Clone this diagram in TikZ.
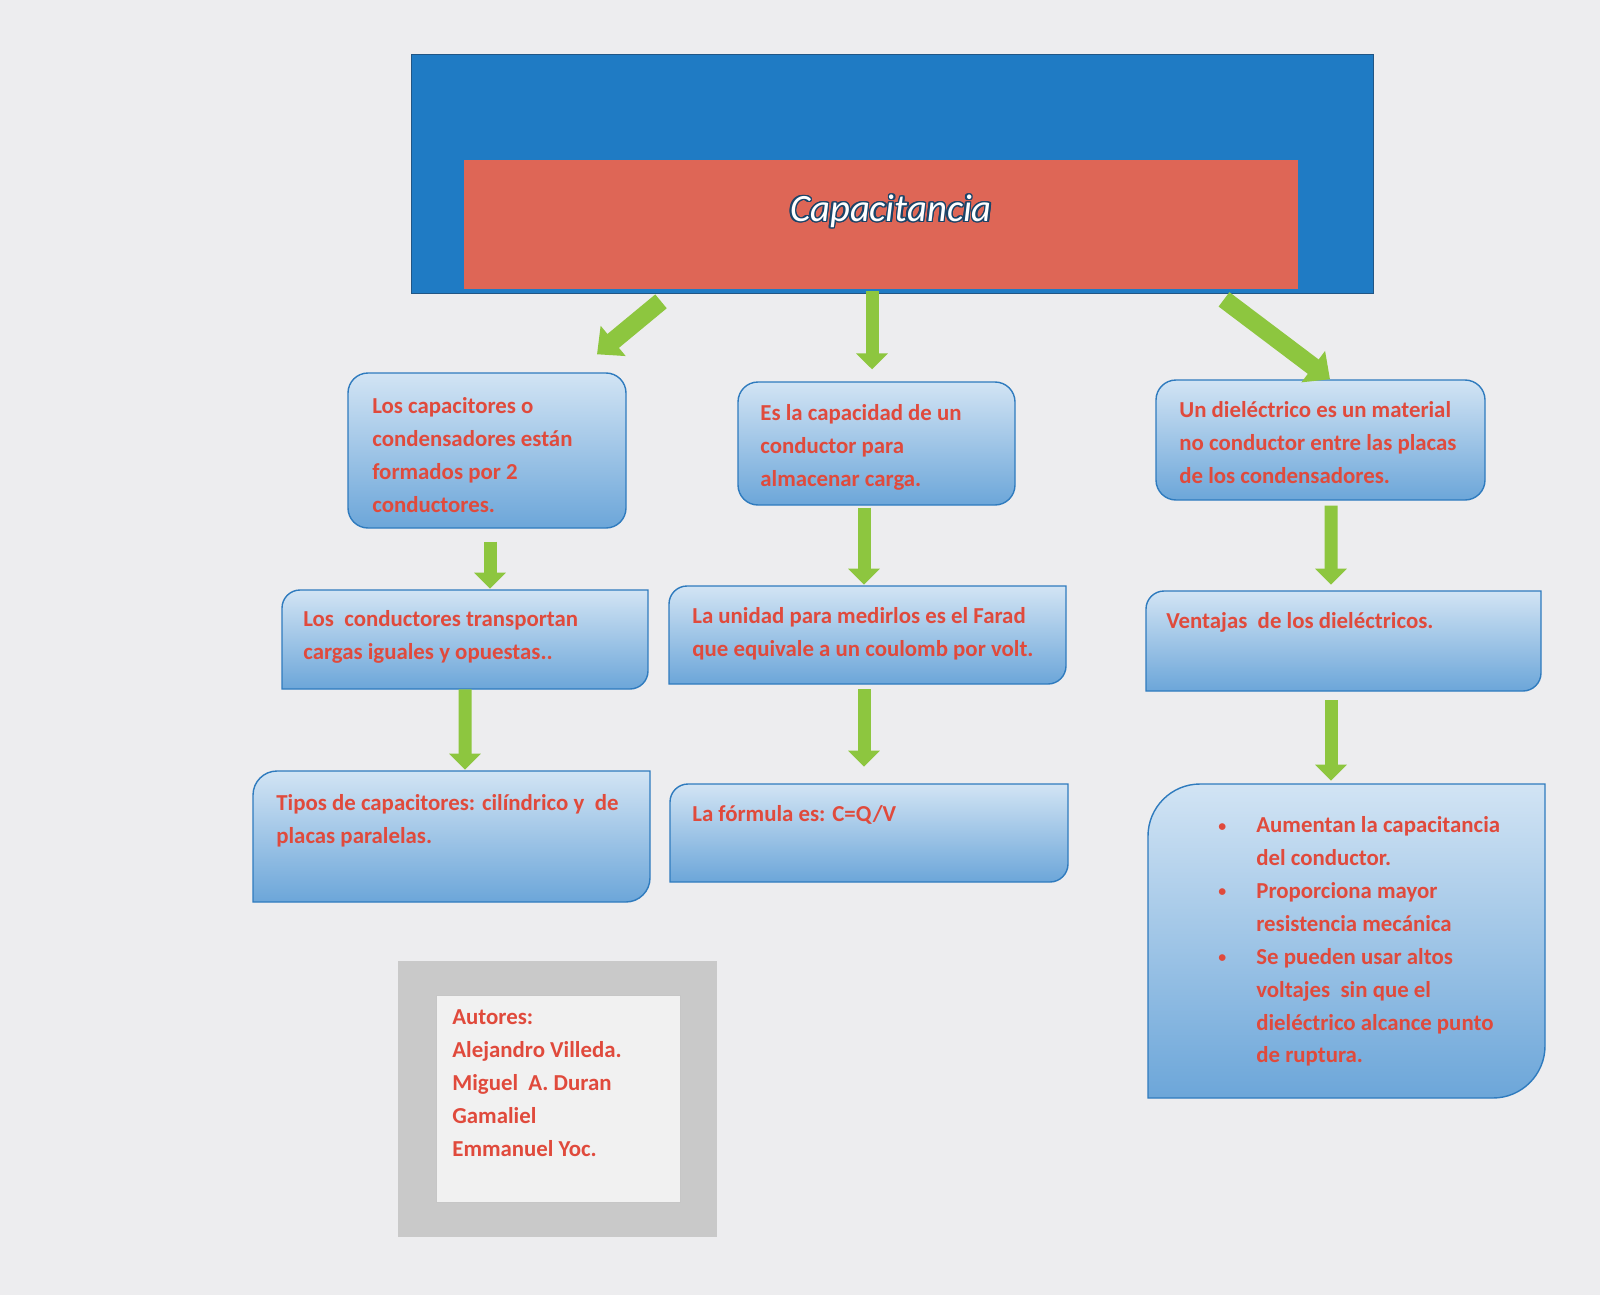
\documentclass[tikz,border=0pt]{standalone}
\usepackage{fontspec}
\setmainfont{Carlito}
\usepackage{contour}
\usetikzlibrary{arrows.meta,calc,fit}
\definecolor{CapPaper}{HTML}{EDEDEF}
\definecolor{CapBlue}{HTML}{1F7BC4}
\definecolor{CapSalmon}{HTML}{DE6656}
\definecolor{CapTop}{HTML}{D2E4F4}
\definecolor{CapBottom}{HTML}{6CA6D9}
\definecolor{CapLine}{HTML}{2F7BBE}
\definecolor{CapRed}{HTML}{E04A3C}
\definecolor{CapGreen}{HTML}{8DC63F}
\definecolor{CapFrame}{HTML}{C9C9C9}
\definecolor{CapInner}{HTML}{F1F1F1}
\contourlength{0.8pt}
\newdimen\capx \capx=0.02cm
\newcommand{\capbul}{\makebox[38\capx][l]{\raisebox{1pt}{\fontsize{9}{9}\selectfont\textbullet}}}
\newcommand{\capind}{\hspace*{38\capx}}
% box with round top left and bottom right corners
\newcommand{\diagcard}[6]{%
  \node[area,fit={(#2,#3)(#4,#5)}] (#1) {};
  \draw[card] (#2,#3+#6) .. controls (#2,#3+0.45*#6) and (#2+0.45*#6,#3) .. (#2+#6,#3)
    -- (#4,#3) -- (#4,#5-#6) .. controls (#4,#5-0.45*#6) and (#4-0.45*#6,#5) .. (#4-#6,#5)
    -- (#2,#5) -- cycle;}

\begin{document}
\begin{tikzpicture}[x=0.02cm,y=-0.02cm,
      area/.style={inner sep=0pt},
      card/.style={draw=CapLine,line width=0.8pt,top color=CapTop,bottom color=CapBottom},
      roundcard/.style={card,area,rounded corners=0.4cm},
      txt/.style={anchor=north west,inner sep=0pt,align=left,text=CapRed,yshift=-0.27cm,
                  font=\fontsize{13}{18.7}\selectfont\bfseries},
      link/.style={draw=CapGreen,line width=0.26cm,-{Triangle[length=0.32cm,width=0.62cm]}},
      biglink/.style={link,line width=0.36cm,-{Triangle[length=0.42cm,width=0.76cm]}}]
    \fill[CapPaper] (0,0) rectangle (1600,1295);
    \useasboundingbox (0,0) rectangle (1600,1295);
    % title
    \node[area,fill=CapBlue,draw=CapLine!70!black,line width=0.4pt,fit={(411,54)(1373,293)}] (captitle) {};
    \node[area,fill=CapSalmon,fit={(464,160)(1298,289)}] (capband) {};
    \node[text=white,font=\fontsize{22}{26}\selectfont\itshape] (captext) at (891,212)
      {\contour{CapLine!55!black}{Capacitancia}};
    % first row
    \node[roundcard,fit={(348,373)(626,528)}] (capa) {};
    \node[roundcard,fit={(738,382)(1015,505)}] (capb) {};
    \node[roundcard,fit={(1156,380)(1485,500)}] (capc) {};
    \node[txt] (capatxt) at (372,384) {Los capacitores o\\condensadores están\\formados por 2\\conductores.};
    \node[txt] (capbtxt) at (760,391) {Es la capacidad de un\\conductor para\\almacenar carga.};
    \node[txt] (capctxt) at (1179,388) {Un dieléctrico es un material\\no conductor entre las placas\\de los condensadores.};
    % second row
    \diagcard{cond}{282}{590}{648}{689}{18}
    \diagcard{unid}{669}{586}{1066}{684}{18}
    \diagcard{vent}{1146}{591}{1541}{691}{18}
    \node[txt] (condtxt) at (303,597) {Los\ \ conductores transportan\\cargas iguales y opuestas..};
    \node[txt] (unidtxt) at (692,594) {La unidad para medirlos es el Farad\\que equivale a un coulomb por volt.};
    \node[txt] (venttxt) at (1166,599) {Ventajas\ \ de los dieléctricos.};
    % third row
    \diagcard{tipos}{253}{771}{650}{902}{24}
    \diagcard{form}{670}{784}{1068}{882}{18}
    \diagcard{bene}{1148}{784}{1545}{1098}{52}
    \node[txt] (tipostxt) at (276,781) {Tipos de capacitores: cilíndrico y\ \ de\\placas paralelas.};
    \node[txt] (formtxt) at (692,792) {La fórmula es: C=Q/V};
    \node[txt] (benetxt) at (1218,803) {\capbul Aumentan la capacitancia\\\capind del conductor.\\
      \capbul Proporciona mayor\\\capind resistencia mecánica\\\capbul Se pueden usar altos\\
      \capind voltajes\ \ sin que el\\\capind dieléctrico alcance punto\\\capind de ruptura.};
    % authors
    \node[area,fill=CapFrame,fit={(398,961)(717,1237)}] (autframe) {};
    \node[area,fill=CapInner,draw=gray!45,line width=0.4pt,fit={(436,995)(680,1202)}] (autin) {};
    \node[txt] (auttxt) at (452,996) {Autores:\\Alejandro Villeda.\\Miguel\ \ A. Duran\\Gamaliel\\Emmanuel Yoc.};
    % arrows
    \draw[biglink] ($(captitle.south)+(-231,8)$) -- ($(capa.north)+(110,-18)$);
    \draw[link] ($(captitle.south)+(-20,-2)$) -- ($(capb.north)+(-4.5,-12)$);
    \draw[biglink] ($(captitle.south)+(332,6)$) -- ($(capc.north)+(9.5,0)$);
    \draw[link] ($(capa.south)+(3,13)$) -- ($(cond.north)+(25,-1)$);
    \draw[link] ($(capb.south)+(-12.5,2)$) -- ($(unid.north)+(-3.5,-1)$);
    \draw[link] ($(capc.south)+(10.5,5)$) -- ($(vent.north)+(-12.5,-6)$);
    \draw[link] ($(cond.south)+(0,0)$) -- ($(tipos.north)+(13.5,-1)$);
    \draw[link] ($(unid.south)+(-3.5,5)$) -- ($(form.north)+(-5,-17)$);
    \draw[link] ($(vent.south)+(-12.5,9)$) -- ($(bene.north)+(-15.5,-3)$);
  \end{tikzpicture}
\end{document}
